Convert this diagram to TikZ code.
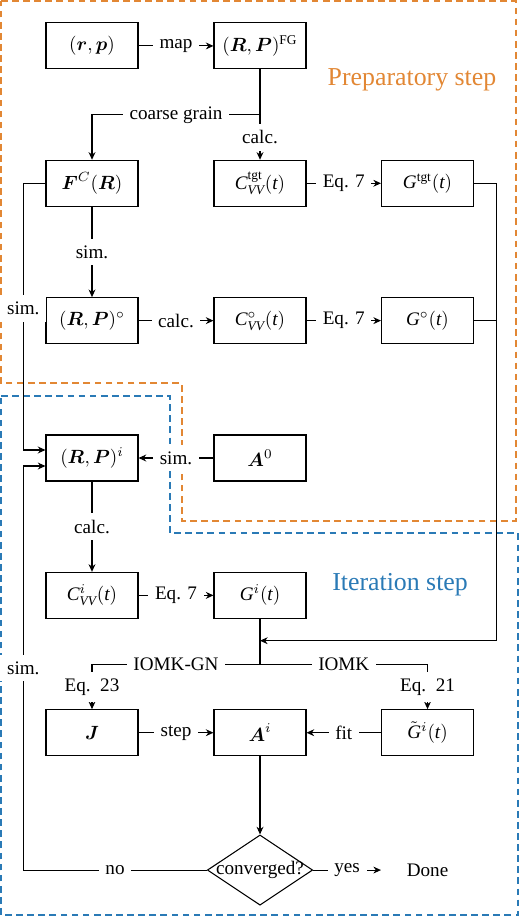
\documentclass[tikz,border=0pt]{standalone}
\usepackage{amsmath, amssymb}
\usepackage{fontspec}
\setmainfont{Liberation Serif}
\usetikzlibrary{arrows.meta, shapes.geometric}

\definecolor{prepcol}{RGB}{226,135,52}
\definecolor{itercol}{RGB}{42,122,182}

\tikzset{
  box/.style={draw, minimum width=1.69cm, minimum height=0.845cm, inner sep=0pt},
  lbl/.style={fill=white, inner sep=3.5pt},
  decision/.style={draw, diamond, aspect=1.5, inner sep=-0.9pt},
  region/.style={line width=0.9pt, dash pattern=on 3.5pt off 2.3pt},
  >={Stealth[length=4pt,width=3.6pt]}
}

\begin{document}
\begin{tikzpicture}[line width=0.55pt, font=\fontsize{10}{12}\selectfont]
	\useasboundingbox (0,0) rectangle (9.552,16.844);
	\draw[region, prepcol] (0.018,16.826) -- (9.478,16.826) -- (9.478,7.279) -- (3.338,7.279) -- (3.338,9.803) -- (0.018,9.803) -- cycle;
	\draw[region, itercol] (0.018,9.575) -- (3.123,9.575) -- (3.123,7.048) -- (9.515,7.048) -- (9.515,0.036) -- (0.018,0.036) -- cycle;
	\node[text=prepcol, font=\fontsize{13.5}{16}\selectfont] (prep) at (7.568,15.374) {Preparatory step};
	\node[text=itercol, font=\fontsize{13.5}{16}\selectfont] (iter) at (7.348,6.098) {Iteration step};
	\node[box] (rp) at (1.69,16) {$(\boldsymbol{r},\boldsymbol{p})$};
	\node[box] (RPfg) at (4.776,16) {$(\boldsymbol{R},\boldsymbol{P})^{\mathrm{FG}}$};
	\node[box] (FC) at (1.69,13.477) {$\boldsymbol{F}^C(\boldsymbol{R})$};
	\node[box] (Ctgt) at (4.776,13.477) {$\mathit{C}^{\mathrm{tgt}}_{\mathit{VV}}(\mathit{t})$};
	\node[box] (Gtgt) at (7.853,13.477) {$\mathit{G}^{\mathrm{tgt}}(\mathit{t})$};
	\node[box] (RPo) at (1.69,10.954) {$(\boldsymbol{R},\boldsymbol{P})^\circ$};
	\node[box] (Co) at (4.776,10.954) {$\mathit{C}^{\circ}_{\mathit{VV}}(\mathit{t})$};
	\node[box] (Go) at (7.853,10.954) {$\mathit{G}^{\circ}(\mathit{t})$};
	\node[box] (RPi) at (1.69,8.431) {$(\boldsymbol{R},\boldsymbol{P})^i$};
	\node[box] (A0) at (4.776,8.431) {$\boldsymbol{A}^0$};
	\node[box] (Ci) at (1.69,5.908) {$\mathit{C}^i_{\mathit{VV}}(\mathit{t})$};
	\node[box] (Gi) at (4.776,5.908) {$\mathit{G}^i(\mathit{t})$};
	\node[box] (J) at (1.69,3.385) {$\boldsymbol{J}$};
	\node[box] (Ai) at (4.776,3.385) {$\boldsymbol{A}^i$};
	\node[box] (Gfit) at (7.853,3.385) {$\tilde{\mathit{G}}^i(\mathit{t})$};
	\node[decision] (conv) at (4.776,0.862) {converged?};
	\node[box, draw=none] (done) at (7.853,0.862) {Done};
	\coordinate (cg) at (4.776,14.732);
	\coordinate (om) at (4.776,4.642);
	\coordinate (rbus) at (9.12,5.075);
	\coordinate (simtop) at (0.428,8.578);
	\coordinate (simbot) at (0.428,8.284);
	\draw[->] (rp) -- node[lbl]{map} (RPfg);
	\draw (RPfg) -- (cg);
	\draw[->] (cg) -- node[lbl]{calc.} (Ctgt);
	\draw[->] (cg) -| node[lbl, pos=0.25]{coarse grain} (FC);
	\draw[->] (Ctgt) -- node[lbl]{Eq. 7} (Gtgt);
	\draw[->] (FC) -- node[lbl]{sim.} (RPo);
	\draw[->] (RPo) -- node[lbl]{calc.} (Co);
	\draw[->] (Co) -- node[lbl]{Eq. 7} (Go);
	\draw[->] (FC.west) -| node[lbl, pos=0.735]{sim.} (simtop) -- (simtop -| RPi.west);
	\draw[->] (A0) -- node[lbl]{sim.} (RPi);
	\draw[->] (RPi) -- node[lbl]{calc.} (Ci);
	\draw[->] (Ci) -- node[lbl]{Eq. 7} (Gi);
	\draw[->] (Gtgt.east) -| (rbus) -- (rbus -| Gi);
	\draw (Go.east) -- (Go.east -| rbus);
	\draw (Gi) -- (om);
	\draw[->] (om) -| node[lbl, pos=0.25]{IOMK-GN} node[lbl, pos=0.75]{Eq.~~23} (J);
	\draw[->] (om) -| node[lbl, pos=0.25]{IOMK} node[lbl, pos=0.75]{Eq.~~21} (Gfit);
	\draw[->] (J) -- node[lbl]{step} (Ai);
	\draw[->] (Gfit) -- node[lbl]{fit} (Ai);
	\draw[->] (Ai) -- (conv);
	\draw[->] (conv) -- node[lbl]{yes} (done);
	\draw[->] (conv.west) -| node[lbl, pos=0.25]{no} node[lbl, pos=0.75]{sim.} (simbot) -- (simbot -| RPi.west);
\end{tikzpicture}
\end{document}
